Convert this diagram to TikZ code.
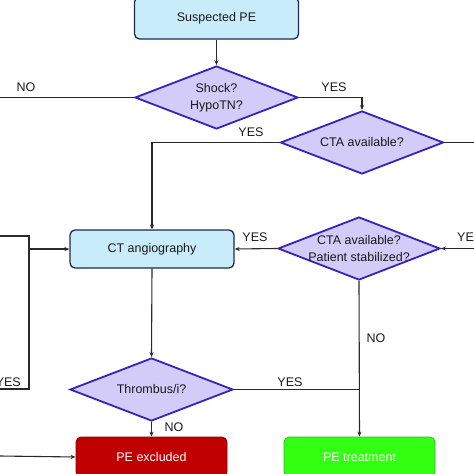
\documentclass[tikz,border=0pt]{standalone}
\usepackage{fontspec}
\setmainfont{Liberation Sans}
\usetikzlibrary{shapes.geometric,arrows.meta}
\definecolor{boxblue}{HTML}{C9ECFA}
\definecolor{boxedge}{HTML}{1B2A4E}
\definecolor{dfill}{HTML}{D3CBF8}
\definecolor{dedge}{HTML}{3A20C0}
\definecolor{redfill}{HTML}{C00000}
\definecolor{rededge}{HTML}{8B0000}
\definecolor{greenfill}{HTML}{33FF11}
\definecolor{greenedge}{HTML}{2DB82D}
\definecolor{linecol}{HTML}{2A2A2A}
\tikzset{
  every node/.style={font=\fontsize{12.5}{17}\selectfont, text=black!90},
  procbox/.style={rectangle, rounded corners=5pt, draw=boxedge, line width=1.3pt, fill=boxblue, minimum width=164pt, minimum height=38pt, inner sep=0pt},
  endbox/.style={rectangle, rounded corners=5pt, line width=0.8pt, minimum width=151pt, minimum height=40pt, inner sep=0pt, text=white},
  decision/.style={diamond, draw=dedge, line width=1.8pt, fill=dfill, minimum width=163pt, minimum height=63pt, inner sep=0pt, aspect=2.6},
  conn/.style={draw=linecol, line width=1.1pt},
  arr/.style={conn, -{Stealth[length=5pt,width=4pt]}},
  lab/.style={inner sep=0pt}
}
\begin{document}
\begin{tikzpicture}[x=1pt,y=-1pt]
\useasboundingbox (0,0) rectangle (474,474);
% nodes
\node[procbox, minimum height=42pt] (start) at (216.5,18) {Suspected PE};
\node[decision, label={[align=center,lab]center:Shock?\\HypoTN?}] (d1) at (216.5,97.5) {};
\node[decision, label={[align=center,lab]center:CTA available?}] (d2) at (362,142.5) {};
\node[procbox] (ct) at (152,249) {CT angiography};
\node[decision, minimum width=162pt, label={[align=center,lab]center:CTA available?\\Patient stabilized?}] (d3) at (359,248.5) {};
\node[decision, label={[align=center,lab]center:Thrombus/i?}] (d4) at (151.5,389.5) {};
\node[endbox, fill=redfill, draw=rededge] (excl) at (151.5,457) {PE excluded};
\node[endbox, fill=greenfill, draw=greenedge] (treat) at (359.5,457) {PE treatment};
% free ends
\coordinate (nol) at (0,97.5);
\coordinate (yr1) at (362,97.5);
\coordinate (r2) at (474,142.5);
\coordinate (yl2) at (152,142.5);
\coordinate (lt) at (0,236);
\coordinate (lc1) at (29,236);
\coordinate (lc2) at (29,389);
\coordinate (lb) at (0,389);
\coordinate (la) at (29,249);
\coordinate (r3) at (474,248.5);
\coordinate (jn) at (359,389.5);
\coordinate (lx) at (0,456);
% connectors
\draw[arr] (start.south) -- (d1.north);
\draw[conn] (d1.west) -- (nol);
\draw[arr] (d1.east) -- (yr1) -- (d2.north);
\draw[conn] (d2.east) -- (r2);
\draw[arr] (d2.west) -- (yl2) -- (ct.north);
\draw[conn] (lt) -- (lc1) -- (lc2) -- (lb);
\draw[arr] (la) -- (ct.west);
\draw[arr] (r3) -- (d3.east);
\draw[arr] (d3.west) -- (ct.east);
\draw[arr] (d3.south) -- (treat.north);
\draw[conn] (d4.east) -- (jn);
\draw[arr] (ct.south) -- (d4.north);
\draw[arr] (d4.south) -- (excl.north);
\draw[arr] (lx) -- (excl.west);
% labels
\node[lab] (l1) at (26,87) {NO};
\node[lab] (l2) at (334,87) {YES};
\node[lab] (l3) at (251,132) {YES};
\node[lab] (l4) at (255,237) {YES};
\node[lab, anchor=west] (l5) at (457,237) {YES};
\node[lab] (l6) at (376,338) {NO};
\node[lab] (l7) at (290,382) {YES};
\node[lab] (l8) at (174,427) {NO};
\node[lab, anchor=east] (l9) at (21,382) {YES};
\end{tikzpicture}
\end{document}
